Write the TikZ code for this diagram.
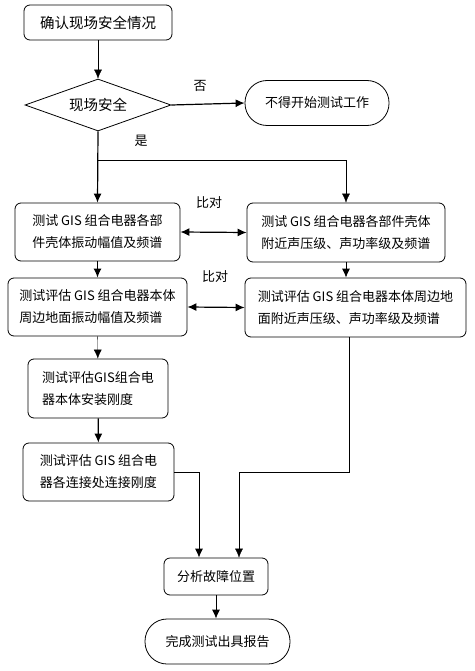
\documentclass[tikz,border=0pt]{standalone}
\usepackage{fontspec}
\newfontfamily\cjk{Noto Sans CJK SC}
\usetikzlibrary{shapes.geometric,arrows.meta}
\tikzset{
  box/.style={draw, thick, rounded corners=6pt, font=\cjk\fontsize{13}{22}\selectfont, align=left, inner sep=0pt},
  ends/.style={draw, thick, rounded corners=22pt, font=\cjk\fontsize{13}{22}\selectfont, inner sep=0pt},
  lbl/.style={font=\cjk\fontsize{13}{15}\selectfont}
}
\begin{document}
\begin{tikzpicture}[x=1pt, y=-1pt, >={Latex[length=9pt,width=8pt]}]
\useasboundingbox (0,0) rectangle (474,671);
\node[box, minimum width=148pt, minimum height=35pt, font=\cjk\fontsize{14.5}{16}\selectfont] (chk) at (98,22.5) {确认现场安全情况};
\node[draw, thick, diamond, aspect=2.8, minimum width=146pt, minimum height=52pt, inner sep=0pt, font=\cjk\fontsize{14.5}{16}\selectfont] (safe) at (98,105) {现场安全};
\node[ends, minimum width=144pt, minimum height=45pt] (stop) at (317,103) {不得开始测试工作};
\node[box, minimum width=165pt, minimum height=58pt] (vib1) at (97.5,232) {测试 GIS 组合电器各部\\件壳体振动幅值及频谱};
\node[box, minimum width=198pt, minimum height=59pt] (snd1) at (346,232.5) {测试 GIS 组合电器各部件壳体\\附近声压级、声功率级及频谱};
\node[box, minimum width=179pt, minimum height=58pt] (vib2) at (97.5,307) {测试评估 GIS 组合电器本体\\周边地面振动幅值及频谱};
\node[box, minimum width=221pt, minimum height=59pt] (snd2) at (355.5,307.5) {测试评估 GIS 组合电器本体周边地\\面附近声压级、声功率级及频谱};
\node[box, minimum width=140pt, minimum height=59pt] (mnt) at (98,388.5) {测试评估GIS组合电\\器本体安装刚度};
\node[box, minimum width=151pt, minimum height=58pt] (jnt) at (98.5,472) {测试评估 GIS 组合电\\器各连接处连接刚度};
\node[box, minimum width=104pt, minimum height=37pt] (loc) at (216,576.5) {分析故障位置};
\node[ends, minimum width=145pt, minimum height=45pt] (rpt) at (217.5,641.5) {完成测试出具报告};
% labels
\node[lbl] (no) at (200,86) {否};
\node[lbl] (yes) at (141,141) {是};
\node[lbl] (cmp1) at (209,203) {比对};
\node[lbl] (cmp2) at (215,277) {比对};
% connectors
\coordinate (br) at (98,160);
\coordinate (k1) at (239,472);
\draw[->] (chk) -- (safe);
\draw[->, very thick] (safe.east) -- (stop.west);
\draw[->, very thick] (safe.south) -- (vib1.north);
\draw[->] (br) -| (snd1.north);
\draw[<->, very thick] (vib1.east) -- (snd1.west);
\draw[<->, very thick] (vib2.east) -- (snd2.west);
\draw[->, very thick] (vib1) -- (vib2);
\draw[->, thick] (snd1.south) -- (snd1.south |- snd2.north);
\draw[->] (vib2) -- (mnt);
\draw[->, very thick] (mnt) -- (jnt);
\draw[->, thick] (jnt.east) -| ([xshift=-17pt]loc.north);
\draw[->] ([xshift=-6.5pt]snd2.south) |- (k1) -- ([xshift=23pt]loc.north);
\draw[->, thick] (loc.south) -- (loc.south |- rpt.north);
\end{tikzpicture}
\end{document}
